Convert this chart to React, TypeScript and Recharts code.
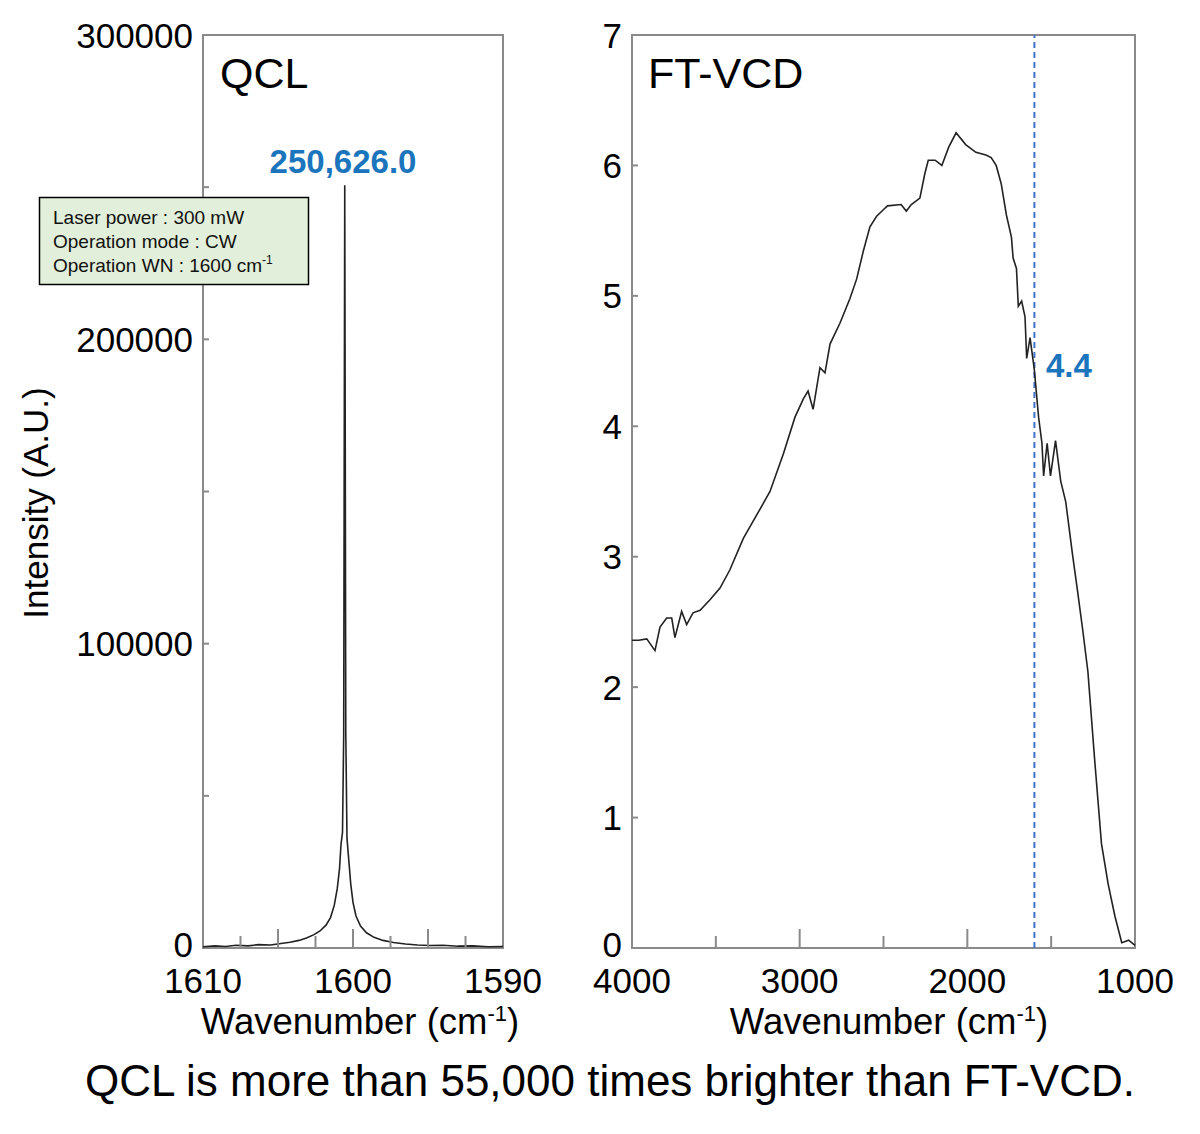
import { LineChart, Line, XAxis, YAxis, ReferenceArea, ReferenceLine } from 'recharts';

const FONT = '"Liberation Sans", Arial, sans-serif';
const FRAME = '#8a8a8a';
const BLUE = '#1B75BC';

// QCL emission spectrum (wavenumber, intensity)
const qclWavenumber = [
  1610, 1609.2, 1608.5, 1607.8, 1607, 1606.3, 1605.5, 1604.8, 1604.2, 1603.6, 1603.1, 1602.6, 1602.2,
  1601.8, 1601.5, 1601.25, 1601.05, 1600.9, 1600.8, 1600.7, 1600.62, 1600.55, 1600.48, 1600.4, 1600.3,
  1600.15, 1600, 1599.8, 1599.5, 1599.1, 1598.6, 1598, 1597.3, 1596.5, 1595.7, 1594.9, 1594, 1593, 1592,
  1591, 1590,
];
const qclIntensity = [
  400, 700, 500, 900, 700, 1100, 1000, 1500, 1900, 2500, 3300, 4400, 5600, 7500, 10000, 14000, 19500,
  26000, 34000, 38000, 70000, 250626, 70000, 36000, 30000, 21000, 15000, 10500, 7200, 5000, 3500, 2500,
  1800, 1300, 1000, 800, 900, 600, 700, 400, 500,
];

// FT-VCD source spectrum
const ftWavenumber = [
  4000, 3960, 3912, 3863, 3833, 3793, 3763, 3744, 3704, 3674, 3636, 3594, 3535, 3475, 3416, 3336, 3256,
  3177, 3097, 3028, 2978, 2950, 2920, 2879, 2849, 2819, 2760, 2700, 2660, 2621, 2581, 2541, 2501, 2476,
  2395, 2364, 2334, 2283, 2253, 2233, 2192, 2152, 2111, 2067, 2010, 1949, 1889, 1858, 1828, 1798, 1767,
  1737, 1727, 1707, 1696, 1676, 1656, 1646, 1626, 1601, 1575, 1555, 1545, 1524, 1504, 1474, 1443, 1413,
  1372, 1342, 1312, 1281, 1241, 1200, 1160, 1119, 1079, 1038, 1000,
];
const ftIntensity = [
  2.36, 2.36, 2.37, 2.28, 2.46, 2.53, 2.53, 2.38, 2.58, 2.48, 2.57, 2.59, 2.67, 2.76, 2.9, 3.14, 3.32,
  3.5, 3.79, 4.07, 4.21, 4.27, 4.13, 4.45, 4.41, 4.63, 4.79, 4.98, 5.13, 5.34, 5.53, 5.61, 5.66, 5.69,
  5.7, 5.65, 5.7, 5.75, 5.94, 6.04, 6.04, 6.0, 6.14, 6.25, 6.16, 6.1, 6.08, 6.06, 6.0, 5.86, 5.62, 5.45,
  5.29, 5.21, 4.92, 4.96, 4.84, 4.52, 4.68, 4.44, 4.07, 3.87, 3.62, 3.87, 3.62, 3.89, 3.58, 3.42, 3.01,
  2.73, 2.44, 2.12, 1.45, 0.8, 0.49, 0.24, 0.04, 0.06, 0.02,
];

const qclXTicks = [1610, 1607.5, 1605, 1602.5, 1600, 1597.5, 1595, 1592.5, 1590];
const qclXLabels = [1610, 1600, 1590];
const qclXMajor = [1605, 1600, 1595];
const qclYTicks = [0, 50000, 100000, 150000, 200000, 250000, 300000];
const qclYLabels = [0, 100000, 200000, 300000];

const ftXTicks = [4000, 3500, 3000, 2500, 2000, 1500, 1000];
const ftXLabels = [4000, 3000, 2000, 1000];
const ftXMajor = [3000, 2000];
const ftYTicks = [0, 1, 2, 3, 4, 5, 6, 7];

const qclData = qclWavenumber.map((x, i) => ({ x, y: qclIntensity[i] }));
const ftData = ftWavenumber.map((x, i) => ({ x, y: ftIntensity[i] }));

function bottomTick(labels: number[], major: number[], edges: number[]) {
  return (props: any) => {
    const { x, y, payload } = props;
    const v = payload.value;
    const len = major.includes(v) ? 19 : 12;
    return (
      <g>
        {!edges.includes(v) && <line x1={x} x2={x} y1={y} y2={y - len} stroke={FRAME} strokeWidth={2} />}
        {labels.includes(v) && (
          <text x={x} y={y + 45} textAnchor="middle" fontSize={35} fill="#000" fontFamily={FONT}>
            {v}
          </text>
        )}
      </g>
    );
  };
}

function leftTick(labels: number[], edges: number[]) {
  return (props: any) => {
    const { x, y, payload } = props;
    const v = payload.value;
    // the zero label sits a little higher so it clears the x labels
    const dy = v === 0 ? 9 : 12.5;
    return (
      <g>
        {!edges.includes(v) && <line x1={x} x2={x + 6} y1={y} y2={y} stroke={FRAME} strokeWidth={2} />}
        {labels.includes(v) && (
          <text x={x - 10} y={y + dy} textAnchor="end" fontSize={35} fill="#000" fontFamily={FONT}>
            {v}
          </text>
        )}
      </g>
    );
  };
}

export default function App() {
  return (
    <div style={{ position: 'absolute', left: 0, top: 0, width: 1200, height: 1134, background: '#fff', fontFamily: FONT }}>
      <div style={{ position: 'absolute', left: 0, top: 0 }}>
        <LineChart width={560} height={1010} data={qclData} margin={{ top: 35, right: 57, bottom: 0, left: 83 }}>
          <XAxis
            dataKey="x"
            type="number"
            domain={[1590, 1610]}
            reversed
            ticks={qclXTicks}
            interval={0}
            height={62}
            tickSize={0}
            tickMargin={0}
            axisLine={false}
            tickLine={false}
            tick={bottomTick(qclXLabels, qclXMajor, [1610, 1590])}
          />
          <YAxis
            type="number"
            domain={[0, 300000]}
            ticks={qclYTicks}
            interval={0}
            width={120}
            tickSize={0}
            tickMargin={0}
            axisLine={false}
            tickLine={false}
            tick={leftTick(qclYLabels, [0, 300000])}
          />
          <Line dataKey="y" type="linear" stroke="#222" strokeWidth={1.6} dot={false} isAnimationActive={false} />
          <ReferenceArea x1={1610} x2={1590} y1={0} y2={300000} fill="none" stroke={FRAME} strokeWidth={2} />
        </LineChart>
      </div>

      <div style={{ position: 'absolute', left: 0, top: 0 }}>
        <LineChart width={1190} height={1010} data={ftData} margin={{ top: 35, right: 55, bottom: 0, left: 572 }}>
          <XAxis
            dataKey="x"
            type="number"
            domain={[1000, 4000]}
            reversed
            ticks={ftXTicks}
            interval={0}
            height={62}
            tickSize={0}
            tickMargin={0}
            axisLine={false}
            tickLine={false}
            tick={bottomTick(ftXLabels, ftXMajor, [4000, 1000])}
          />
          <YAxis
            type="number"
            domain={[0, 7]}
            ticks={ftYTicks}
            interval={0}
            width={60}
            tickSize={0}
            tickMargin={0}
            axisLine={false}
            tickLine={false}
            tick={leftTick(ftYTicks, [0, 7])}
          />
          <ReferenceLine x={1600} stroke="#4472C4" strokeWidth={2} strokeDasharray="6 4" />
          <Line dataKey="y" type="linear" stroke="#222" strokeWidth={1.6} dot={false} isAnimationActive={false} />
          <ReferenceArea x1={4000} x2={1000} y1={0} y2={7} fill="none" stroke={FRAME} strokeWidth={2} />
        </LineChart>
      </div>

      <svg width={1200} height={1134} style={{ position: 'absolute', left: 0, top: 0, pointerEvents: 'none' }} fontFamily={FONT}>
        <text x={220} y={88} fontSize={43} fill="#000">QCL</text>
        <text x={648} y={88} fontSize={43} fill="#000">FT-VCD</text>
        <text x={343} y={173} fontSize={33} fontWeight="bold" fill={BLUE} textAnchor="middle">250,626.0</text>
        <text x={1046} y={377} fontSize={33} fontWeight="bold" fill={BLUE}>4.4</text>

        <rect x={39.5} y={197.5} width={269} height={87} fill="#E2EFDA" stroke="#000" strokeWidth={1.5} />
        <text x={53} y={224} fontSize={19} fill="#111">Laser power : 300 mW</text>
        <text x={53} y={248} fontSize={19} fill="#111">Operation mode : CW</text>
        <text x={53} y={272} fontSize={19} fill="#111">
          Operation WN : 1600 cm<tspan fontSize={12} dy={-8}>-1</tspan>
        </text>

        <text transform="translate(48,503) rotate(-90)" fontSize={35} textAnchor="middle" fill="#000">Intensity (A.U.)</text>
        <text x={360} y={1034} fontSize={36.5} textAnchor="middle" fill="#000">
          Wavenumber (cm<tspan fontSize={22} dy={-13}>-1</tspan><tspan dy={13}>)</tspan>
        </text>
        <text x={889} y={1034} fontSize={36.5} textAnchor="middle" fill="#000">
          Wavenumber (cm<tspan fontSize={22} dy={-13}>-1</tspan><tspan dy={13}>)</tspan>
        </text>
        <text x={610} y={1096} fontSize={44} textAnchor="middle" fill="#000">
          QCL is more than 55,000 times brighter than FT-VCD.
        </text>
      </svg>
    </div>
  );
}
